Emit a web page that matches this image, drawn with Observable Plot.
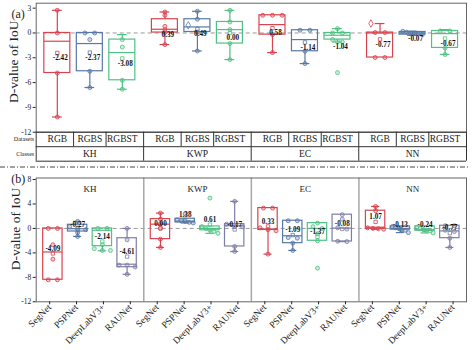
<!DOCTYPE html>
<html><head><meta charset="utf-8">
<script src="https://cdn.jsdelivr.net/npm/d3@7"></script>
<script src="https://cdn.jsdelivr.net/npm/@observablehq/plot@0.6"></script>
<style>
html,body{margin:0;padding:0;background:#fff}
#chart{position:relative;width:474px;height:350px;overflow:hidden;background:#fff}
#chart svg{position:absolute;left:0}
</style></head><body><div id="chart"></div>
<script>
// ---------------- data ----------------
const classes = ["KH","KWP","EC","NN"];
const datasets = ["RGB","RGBS","RGBST"];
const models = ["SegNet","PSPNet","DeepLabV3+","RAUNet"];
const rowLabels = ["Datasets","Classes"];
const yLabel = "D-value of IoU";
const panelTags = ["(a)","(b)"];
const yTicksA = [3,0,-3,-6,-9,-12];
const yTicksB = [8,4,0,-4,-8,-12];

// panel (a): KH RGB, KH RGBS, KH RGBST, KWP RGB, ... NN RGBST
const aMin  = [-10.16,-6.6,-6.8, -1.4,-2.18,-3.22, -2.37,-3.7,-1.09, -2.97,-0.3,-2.6];
const aQ1   = [-4.84,-4.63,-5.72, 0.05,0.12,-1.28, -0.2,-2.21,-0.8, -2.97,-0.2,-1.81];
const aMed  = [-1.0,-1.28,-2.37, 0.45,0.73,0.41, 1.01,-0.8,-0.28, 0.0,0.0,-0.08];
const aQ3   = [0,0,-0.8, 1.66,1.66,1.33, 2.14,0.33,0, 0.05,0.12,0.24];
const aMax  = [2.74,0,-0.2, 2.54,2.62,2.74, 2.14,0.33,0.53, 1.14,0.2,0.41];
const aMean = [-2.42,-2.37,-3.08, 0.39,0.49,0.00, 0.58,-1.14,-1.04, -0.77,-0.07,-0.67];
const aPoints = [
  [2.74,0,-4.84,-10.16],
  [0,0,-0.8,-4.63,-6.6],
  [-0.8,-1.7,-5.72,-6.8],
  [2.54,2.14,0.8,0.05,-1.4],
  [2.62,1.66,0.12,-2.18],
  [2.74,1.33,0.41,-1.28,-3.22],
  [2.14,2.14,2.14,-0.2,-2.37],
  [0.33,0.33,-2.21,-3.7],
  [0.53,0,0,-0.8,-1.09,-4.79],
  [0.05,0.05,-2.97,-2.97],
  [0.2,0.1,0,0,-0.1,-0.2],
  [0.24,0.24,-1.81,-2.6]
];
const aDiamonds = [[],[],[],[],[0.93],[],[],[],[],[1.14],[],[]];

// panel (b): KH SegNet, KH PSPNet, KH DeepLabV3+, KH RAUNet, KWP ..., EC ..., NN ...
const bMin  = [-8.4,-1.31,-3.66,-7.5, -3.11,0.9,-0.8,-3.77, -4.2,-3.6,-2.02,-2.15, -0.13,-0.68,-0.74,-3.11];
const bQ1   = [-8.4,-0.5,-2.9,-6.34, -1.75,0.98,-0.3,-2.95, -0.25,-2.41,-2.02,-2.13, -0.05,-0.2,-0.38,-1.59];
const bMed  = [-3.85,-0.05,-0.3,-5.85, 0.7,1.19,0.0,0.44, -0.1,-1.2,0.0,0.05, 0.2,0.0,-0.2,-0.4];
const bQ3   = [0,0.6,0,-1.6, 1.52,1.59,0.33,0.7, 3.33,1.26,0.87,2.25, 2.9,0.33,0.33,0.44];
const bMax  = [0,1.15,0,0, 2.51,1.59,0.33,4.43, 3.33,1.26,0.87,2.25, 3.6,0.33,0.33,0.44];
const bMean = [-4.09,-0.27,-2.14,-4.61, 0.00,1.38,0.61,-0.17, 0.33,-1.09,-1.37,-0.08, 1.07,-0.13,-0.24,-0.77];
const bPoints = [
  [0,0,-2.67,-5.03,-8.4,-8.4],
  [1.15,0.3,0,-0.2,-0.7,-1.31],
  [0,0,-2.67,-3.3,-3.6,-3.6],
  [0,-1.86,-6,-6,-6.3,-7.5],
  [2.51,1.52,0.78,0.05,-1.75,-3.11],
  [2.4,1.4,1.25,1.13,1.0,0.9],
  [4.97,0.3,0,-0.3,-0.5,-0.8],
  [4.43,0.7,0.3,0.27,-2.95,-3.77],
  [3.33,3.33,0.1,-0.2,-0.38,-4.2],
  [1.26,1.26,-1.5,-1.59,-2.4,-3.6],
  [0.87,0.3,0,-0.87,-2.02,-6.5],
  [2.25,1.52,0.1,-0.1,-2.1,-2.15],
  [3.6,2.9,0.1,0,-0.05,-0.13],
  [0.3,0.1,0,-0.2,-0.3,-0.68],
  [0.2,0,-0.2,-0.3,-0.4,-0.74],
  [0.44,0.44,-0.3,-0.5,-1.59,-3.11]
];
const bDiamonds = bMin.map(() => []);

const colorsA = ["#d9434f","#5878a6","#4fc184"];
const colorsB = ["#d9434f","#5878a6","#4fc184","#7e7ea6"];

// ---------------- layout ----------------
const FONT = "'Liberation Serif','Times New Roman',serif";
const W = 474;
const left = 35.7, right = 466;
const domA = [-0.65, 12.59];
const groupStepA = 3.31;
const posA = i => Math.floor(i/3)*groupStepA + i%3;
const domB = [-0.5, 15.5];
const boxSpreadB = 0.92;
const posB = i => Math.floor(i/4)*4 + 1.5 + (i%4 - 1.5)*boxSpreadB;
const style = {fontFamily: FONT, fontSize: "7.5px", background: "transparent", overflow: "visible", color: "#222"};

function spread(values, thr, step, maxW) {
  const idx = d3.range(values.length).sort((a,b) => values[b]-values[a]);
  const off = new Array(values.length).fill(0);
  let cl = [idx[0]];
  const flush = () => {
    const m = cl.length, s = m > 1 ? Math.min(step, maxW/(m-1)) : 0;
    cl.forEach((j,k) => off[j] = (k-(m-1)/2)*s);
  };
  for (let t = 1; t < idx.length; t++) {
    if (values[idx[t-1]] - values[idx[t]] < thr) cl.push(idx[t]);
    else { flush(); cl = [idx[t]]; }
  }
  flush();
  return off;
}

function boxMarks(rows, pts, diam, o) {
  const P = rows.flatMap((r,i) => {
    const off = spread(pts[i], o.thr, o.step, o.maxW);
    return pts[i].map((v,k) => ({key: r.key, v, x: r.pos + off[k]}));
  });
  const D = rows.flatMap((r,i) => diam[i].map(v => ({key: r.key, v, x: r.pos - o.bw*0.7})));
  const lo = rows.filter(d => d.min < d.q1), hi = rows.filter(d => d.max > d.q3);
  const sw = o.sw;
  return [
    Plot.ruleX(lo, {x: "pos", y1: "min", y2: "q1", stroke: "key", strokeWidth: sw}),
    Plot.ruleX(hi, {x: "pos", y1: "q3", y2: "max", stroke: "key", strokeWidth: sw}),
    Plot.ruleY(lo, {y: "min", x1: d => d.pos-o.cap, x2: d => d.pos+o.cap, stroke: "key", strokeWidth: sw}),
    Plot.ruleY(hi, {y: "max", x1: d => d.pos-o.cap, x2: d => d.pos+o.cap, stroke: "key", strokeWidth: sw}),
    Plot.rect(rows, {x1: d => d.pos-o.bw, x2: d => d.pos+o.bw, y1: "q1", y2: "q3", stroke: "key", fill: "none", strokeWidth: sw}),
    Plot.ruleY(rows, {y: "med", x1: d => d.pos-o.bw, x2: d => d.pos+o.bw, stroke: "key", strokeWidth: sw}),
    Plot.dot(P, {x: "x", y: "v", r: 2, stroke: "key", fill: "key", fillOpacity: 0.3, strokeWidth: 0.8}),
    Plot.dot(D, {x: "x", y: "v", symbol: "diamond", r: 2.3, stroke: "key", fill: "none", strokeWidth: 0.8}),
    Plot.dot(rows, {x: "pos", y: "mean", symbol: "square", r: 1.9, stroke: "key", fill: "none", strokeWidth: 0.8}),
    Plot.text(rows, {x: "pos", y: "mean", text: d => d.mean.toFixed(2), dx: o.ldx, dy: o.ldy,
      fontWeight: "bold", fontSize: 7.2, fill: "#111"})
  ];
}

const rowsA = aMin.map((_, i) => ({i, cls: classes[Math.floor(i/3)], key: datasets[i%3], pos: posA(i),
  min: aMin[i], q1: aQ1[i], med: aMed[i], q3: aQ3[i], max: aMax[i], mean: aMean[i]}));
const rowsB = bMin.map((_, i) => ({i, cls: classes[Math.floor(i/4)], key: models[i%4], pos: posB(i),
  min: bMin[i], q1: bQ1[i], med: bMed[i], q3: bQ3[i], max: bMax[i], mean: bMean[i]}));

const chart = document.getElementById("chart");
const midText = {textAnchor: "middle", lineAnchor: "middle"};

// ---------------- panel (a) ----------------
const plotA = Plot.plot({
  width: W, height: 134, marginLeft: left, marginRight: W-right, marginTop: 2.7, marginBottom: 2.3,
  style,
  x: {domain: domA, axis: null},
  y: {domain: [-12, 3.6], ticks: yTicksA, tickFormat: d => String(d), tickSize: 3, tickPadding: 2, label: null},
  color: {domain: datasets, range: colorsA},
  marks: [
    Plot.ruleY([0], {stroke: "#9a9a9a", strokeDasharray: "4,3"}),
    ...boxMarks(rowsA, aPoints, aDiamonds, {bw: 0.4, cap: 0.15, sw: 1.2, ldx: 3, ldy: 5, thr: 0.3, step: 0.3, maxW: 0.6}),
    Plot.frame({stroke: "#666"}),
    Plot.text([yLabel], {...midText, text: d => d, frameAnchor: "left", rotate: -90, dx: -22.4, dy: -6, fontSize: 13.5}),
    Plot.text([panelTags[0]], {...midText, text: d => d, frameAnchor: "top-left", dx: -18, dy: 10.6, fontSize: 12})
  ]
});
plotA.style.top = "0px";
chart.appendChild(plotA);

// ---------------- table under (a) ----------------
const colBounds = rowsA.slice(1).map((d, k) => ({x: (rowsA[k].pos + d.pos)/2, group: d.cls !== rowsA[k].cls}));
const groupCenters = classes.map(c => d3.mean(rowsA.filter(d => d.cls === c), d => d.pos));
const plotT = Plot.plot({
  width: W, height: 40, marginLeft: left, marginRight: W-right, marginTop: 1.7, marginBottom: 9.3,
  style,
  x: {domain: domA, axis: null},
  y: {domain: [2, 0], axis: null},
  marks: [
    Plot.ruleY([0, 1, 2], {x1: domA[0], x2: domA[1], stroke: "#333"}),
    Plot.ruleX(domA, {y1: 0, y2: 2, stroke: "#333"}),
    Plot.ruleX(colBounds, {x: "x", y1: 0, y2: d => d.group ? 2 : 1, stroke: "#333"}),
    Plot.text(rowsA, {x: "pos", y: 0.5, text: "key", fontSize: 9.5}),
    Plot.text(classes, {x: (d, g) => groupCenters[g], y: 1.5, text: d => d, fontSize: 9.5}),
    Plot.text(rowLabels, {x: domA[0], y: (d, k) => k + 0.5, text: d => d, dx: -2, textAnchor: "end", fontSize: 6})
  ]
});
plotT.style.top = "130px";
d3.select(plotT).append("line")
  .attr("x1", 0).attr("x2", 470).attr("y1", 37).attr("y2", 37)
  .attr("stroke", "#444").attr("stroke-width", 1).attr("stroke-dasharray", "5,2,1,2");
chart.appendChild(plotT);

// ---------------- panel (b) ----------------
const plotB = Plot.plot({
  width: W, height: 182, marginLeft: left, marginRight: W-right, marginTop: 9.5, marginBottom: 48.7,
  style,
  x: {domain: domB},
  y: {domain: [-12, 8.25], ticks: yTicksB, tickFormat: d => String(d), tickSize: 3, tickPadding: 2, label: null},
  color: {domain: models, range: colorsB},
  marks: [
    Plot.ruleY([0], {stroke: "#9a9a9a", strokeDasharray: "4,3"}),
    Plot.ruleX(classes.slice(1).map((c, g) => (g+1)*4 - 0.5), {stroke: "#a8a8a8", strokeWidth: 1.5}),
    ...boxMarks(rowsB, bPoints, bDiamonds, {bw: 0.36, cap: 0.15, sw: 1.2, ldx: 0, ldy: -5, thr: 0.4, step: 0.34, maxW: 0.6}),
    Plot.text(classes, {...midText, x: (d, g) => g*4 + 1.5, frameAnchor: "top", dy: 11.5, text: d => d, fontSize: 9}),
    Plot.frame({stroke: "#666"}),
    Plot.axisY(yTicksB, {tickFormat: d => String(d), fontSize: 7.5, tickSize: 3, tickPadding: 2, label: null}),
    Plot.axisX(d3.range(16), {tickFormat: p => models[p % 4], tickRotate: -45, fontSize: 9.5, tickSize: 3, tickPadding: 1, label: null}),
    Plot.text([yLabel], {...midText, text: d => d, frameAnchor: "left", rotate: -90, dx: -20.7, dy: -11, fontSize: 13.5}),
    Plot.text([panelTags[1]], {...midText, text: d => d, frameAnchor: "top-left", dx: -18, dy: 1.5, fontSize: 12})
  ]
});
plotB.style.top = "168px";
chart.appendChild(plotB);
</script>
</body></html>
